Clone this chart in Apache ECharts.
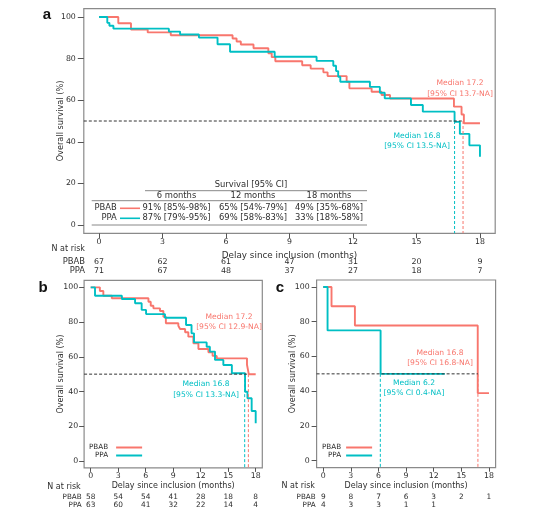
<!DOCTYPE html>
<html lang="en">
<head>
<meta charset="UTF-8">
<title>Overall survival</title>
<script src="https://cdn.jsdelivr.net/npm/echarts@6/dist/echarts.min.js"></script>
<style>
    html, body { margin: 0; padding: 0; background: #fff; }
    #main { width: 554px; height: 518px; }
</style>
</head>
<body>
<div id="main"></div>
<script type="text/javascript">
    // groups, ticks
    var groups = ['PBAB', 'PPA'];
    var riskTimes = [0, 3, 6, 9, 12, 15, 18];
    var yTicks = [0, 20, 40, 60, 80, 100];

    // panel a: everyone
    var aPbabT = [0, 0.91, 1.51, 2.3, 3.39, 6.31, 6.5, 6.7, 7.3, 8.0, 8.16, 8.33, 9.6, 10.0, 10.6, 10.8, 11.7, 11.83, 12.88, 13.35, 13.75, 16.77, 17.13, 17.24, 18.0];
    var aPbabS = [100, 97.0, 94.0, 92.6, 91.2, 89.7, 88.2, 86.8, 85.0, 82.6, 80.7, 78.7, 76.8, 75.2, 73.4, 71.6, 68.9, 65.7, 64.1, 62.5, 60.8, 56.9, 53.1, 48.9, 48.9];
    var aPpaT = [0, 0.39, 0.49, 0.68, 3.3, 3.83, 4.72, 5.6, 6.19, 8.3, 10.28, 11.07, 11.2, 11.3, 11.4, 12.8, 13.27, 13.5, 14.74, 15.3, 16.8, 17.05, 17.5, 18.0];
    var aPpaS = [100, 97.2, 95.8, 94.4, 93.0, 91.6, 90.1, 86.9, 83.3, 80.9, 78.9, 76.6, 74.0, 71.3, 68.9, 66.4, 63.6, 60.9, 57.7, 54.5, 49.6, 43.8, 38.3, 32.8];
    var aMedian = [17.2, 16.8];
    var aMedianCI = ['13.7-NA', '13.5-NA'];
    var aRiskPbab = [67, 62, 61, 47, 31, 20, 9];
    var aRiskPpa = [71, 67, 48, 37, 27, 18, 7];

    // survival table in panel a
    var tableMonths = [6, 12, 18];
    var survPbab = [91, 65, 49];
    var loPbab = [85, 54, 35];
    var hiPbab = [98, 79, 68];
    var survPpa = [87, 69, 33];
    var loPpa = [79, 58, 18];
    var hiPpa = [95, 83, 58];

    // panel b
    var bPbabT = [0, 1.0, 1.38, 2.3, 6.3, 6.55, 6.84, 7.56, 7.93, 8.2, 9.56, 9.75, 10.3, 10.65, 11.2, 11.75, 12.84, 13.3, 13.75, 17.05, 17.25, 18.0];
    var bPbabS = [100, 97.9, 95.2, 93.7, 91.7, 89.4, 87.9, 86.4, 83.1, 79.3, 77.9, 76.0, 74.1, 71.6, 67.8, 64.5, 62.6, 60.5, 59.1, 55.4, 49.9, 49.9];
    var bPpaT = [0, 0.47, 3.4, 4.84, 5.56, 6.04, 8.1, 10.4, 11.0, 11.27, 12.65, 13.0, 13.56, 14.47, 15.4, 16.84, 17.1, 17.56, 18.0];
    var bPpaS = [100, 95.2, 93.3, 90.8, 87.0, 84.6, 82.5, 78.3, 73.5, 68.3, 65.8, 63.0, 58.2, 55.3, 50.5, 39.9, 36.1, 28.8, 21.7];
    var bMedian = [17.2, 16.8];
    var bMedianCI = ['12.9-NA', '13.3-NA'];
    var bRiskPbab = [58, 54, 54, 41, 28, 18, 8];
    var bRiskPpa = [63, 60, 41, 32, 22, 14, 4];

    // panel c
    var cPbabT = [0, 0.9, 3.44, 16.78, 18.0];
    var cPbabS = [100, 88.9, 77.8, 38.9, 38.9];
    var cPpaT = [0, 0.47, 6.23, 13.2];
    var cPpaS = [100, 75, 50, 50];
    var cMedian = [16.8, 6.2];
    var cMedianCI = ['16.8-NA', '0.4-NA'];
    var cRiskPbab = [9, 8, 7, 6, 3, 2, 1];
    var cRiskPpa = [4, 3, 3, 1, 1, null, null];

    var C_PBAB = '#F8766D', C_PPA = '#00BFC4', INK = '#2e2e2e', FONT = 'DejaVu Sans';
    var XMIN = -0.72, XMAX = 18.72, YMIN = -4, YMAX = 104;

    function pts(t, s) {
        return t.map(function (x, i) { return [x, s[i]]; });
    }

    var panels = [
        {
            letter: 'a', letterPos: [47, 15],
            grid: {left: 83.8, top: 8.7, width: 411.4, height: 224.6},
            curves: [pts(aPbabT, aPbabS), pts(aPpaT, aPpaS)], median: aMedian, ci: aMedianCI,
            risk: [aRiskPbab, aRiskPpa], riskGap: [29, 37.7], labelMargin: 5, yLabelMargin: 8, tickLen: 5,
            nameGapX: 17.5, nameGapY: 18.5, atRisk: [85, 249.3], rowLabelX: 85,
            fs: {tick: 7.8, risk: 7.9, rowLabel: 8.4, titleX: 8.8, titleY: 8.2, med: 7.6, atRisk: 8},
            medText: [[460, 83.3, 94.3], [417, 135.7, 145.7]]
        },
        {
            letter: 'b', letterPos: [43, 288],
            grid: {left: 84.1, top: 280.4, width: 178.2, height: 187.5},
            curves: [pts(bPbabT, bPbabS), pts(bPpaT, bPpaS)], median: bMedian, ci: bMedianCI,
            risk: [bRiskPbab, bRiskPpa], riskGap: [29.4, 37.1], labelMargin: 4, yLabelMargin: 6, tickLen: 4,
            nameGapX: 14, nameGapY: 19, atRisk: [80.7, 487.3], rowLabelX: 81.7,
            fs: {tick: 7.8, risk: 7.4, rowLabel: 7.2, titleX: 8, titleY: 8, med: 7.6, atRisk: 8, legend: 7.2},
            medText: [[229, 316.7, 326.7], [206, 384.3, 395]],
            legend: {left: 89, top: 444, gap: 3}
        },
        {
            letter: 'c', letterPos: [280, 288],
            grid: {left: 316.6, top: 280, width: 179, height: 187.7},
            curves: [pts(cPbabT, cPbabS), pts(cPpaT, cPpaS)], median: cMedian, ci: cMedianCI,
            risk: [cRiskPbab, cRiskPpa], riskGap: [29.4, 37.1], labelMargin: 4, yLabelMargin: 7, tickLen: 4,
            nameGapX: 14, nameGapY: 20, atRisk: [315, 486], rowLabelX: 315.7,
            fs: {tick: 7.8, risk: 7.4, rowLabel: 7.2, titleX: 8, titleY: 8, med: 7.6, atRisk: 8, legend: 7.2},
            medText: [[440, 353.3, 362.7], [414, 383.3, 393.3]],
            legend: {left: 322, top: 444, gap: 0}
        }
    ];

    var colors = [C_PBAB, C_PPA];

    function ts(size) {
        return {color: INK, fontFamily: FONT, fontSize: size};
    }

    function text(x, y, s, align, color, size, extra) {
        return {
            type: 'text', x: x, y: y, silent: true,
            style: Object.assign({text: s, fill: color || INK, fontFamily: FONT, fontSize: size || 8, align: align || 'center', verticalAlign: 'middle'}, extra || {})
        };
    }

    function line(x1, y1, x2, y2, color, w) {
        return {type: 'line', silent: true, shape: {x1: x1, y1: y1, x2: x2, y2: y2}, style: {stroke: color || '#888', lineWidth: w || 1}};
    }

    var option = {animation: false, grid: [], xAxis: [], yAxis: [], series: [], legend: [], graphic: []};

    panels.forEach(function (p, k) {
        option.grid.push(Object.assign({show: true, borderColor: '#8a8a8a', borderWidth: 1.2, outerBoundsMode: 'none'}, p.grid));
        var xIdx = option.xAxis.length;
        var base = {
            gridIndex: k, type: 'value', position: 'bottom', min: XMIN, max: XMAX,
            splitLine: {show: false}, axisLine: {show: false, onZero: false}
        };
        option.xAxis.push(Object.assign({}, base, {
            name: 'Delay since inclusion (months)', nameLocation: 'middle', nameGap: p.nameGapX,
            nameMoveOverlap: false, nameTextStyle: ts(p.fs.titleX),
            axisTick: {show: true, length: p.tickLen, customValues: riskTimes, lineStyle: {color: '#555'}},
            axisLabel: Object.assign({customValues: riskTimes, margin: p.labelMargin}, ts(p.fs.tick))
        }));
        // N at risk rows as extra axes on the same scale
        p.risk.forEach(function (row, r) {
            option.xAxis.push(Object.assign({}, base, {
                axisTick: {show: false},
                axisLabel: Object.assign({
                    customValues: riskTimes, margin: p.riskGap[r], verticalAlign: 'middle',
                    formatter: function (v) {
                        var n = row[Math.round(v / 3)];
                        return n == null ? '' : String(n);
                    }
                }, ts(p.fs.risk))
            }));
        });
        option.yAxis.push({
            gridIndex: k, type: 'value', position: 'left', min: YMIN, max: YMAX,
            splitLine: {show: false}, axisLine: {show: false, onZero: false},
            name: 'Overall survival (%)', nameLocation: 'middle', nameGap: p.nameGapY,
            nameMoveOverlap: false, nameTextStyle: ts(p.fs.titleY),
            axisTick: {show: true, length: p.tickLen + 1, customValues: yTicks, lineStyle: {color: '#555'}},
            axisLabel: Object.assign({customValues: yTicks, margin: p.yLabelMargin}, ts(p.fs.tick))
        });

        p.curves.forEach(function (d, g) {
            option.series.push({
                name: groups[g], type: 'line', step: 'end', xAxisIndex: xIdx, yAxisIndex: k,
                data: d, symbol: 'none', color: colors[g], lineStyle: {width: 1.9, color: colors[g]}, z: 2
            });
        });
        // median guides
        var mMax = Math.max.apply(null, p.median);
        option.series.push({
            type: 'line', xAxisIndex: xIdx, yAxisIndex: k, data: [[XMIN, 50], [mMax, 50]], symbol: 'none',
            lineStyle: {width: 1, color: '#333', type: [3, 2]}, z: 4, silent: true
        });
        p.median.forEach(function (m, g) {
            option.series.push({
                type: 'line', xAxisIndex: xIdx, yAxisIndex: k, data: [[m, 50], [m, YMIN]], symbol: 'none',
                lineStyle: {width: 1, color: colors[g], type: [3, 2]}, z: 3, silent: true
            });
            var mt = p.medText[g];
            option.graphic.push(text(mt[0], mt[1], 'Median ' + m.toFixed(1), 'center', colors[g], p.fs.med));
            option.graphic.push(text(mt[0], mt[2], '[95% CI ' + p.ci[g] + ']', 'center', colors[g], p.fs.med));
        });

        // panel letter and risk table labels
        option.graphic.push(text(p.letterPos[0], p.letterPos[1], p.letter, 'center', '#111', 15,
            {fontFamily: 'Liberation Sans', fontWeight: 'bold'}));
        var yb = p.grid.top + p.grid.height;
        option.graphic.push(text(p.atRisk[0], p.atRisk[1], 'N at risk', 'right', INK, p.fs.atRisk));
        groups.forEach(function (name, g) {
            option.graphic.push(text(p.rowLabelX, yb + p.riskGap[g], name, 'right', INK, p.fs.rowLabel));
        });

        if (p.legend) {
            option.legend.push({
                data: groups, orient: 'vertical', align: 'right', left: p.legend.left, top: p.legend.top,
                icon: 'rect', itemWidth: 26, itemHeight: 2, itemGap: 1, padding: 0, selectedMode: false,
                textStyle: Object.assign({padding: [0, p.legend.gap, 0, 0]}, ts(p.fs.legend))
            });
        }
    });

    // survival table inside panel a
    var colX = [176.5, 253, 329];
    option.graphic.push(text(251, 185, 'Survival [95% CI]', 'center', INK, 8.4));
    option.graphic.push(line(145, 190.7, 367, 190.7));
    option.graphic.push(line(91.7, 200.7, 367, 200.7));
    option.graphic.push(line(91.7, 225, 367, 225));
    tableMonths.forEach(function (m, i) {
        option.graphic.push(text(colX[i], 195.5, m + ' months', 'center', INK, 8.4));
    });
    [[survPbab, loPbab, hiPbab], [survPpa, loPpa, hiPpa]].forEach(function (rows, g) {
        var y = g === 0 ? 208.3 : 218.3;
        option.graphic.push(text(116.7, y, groups[g], 'right', INK, 8.4));
        option.graphic.push(line(120, y, 140, y, colors[g], 1.6));
        tableMonths.forEach(function (m, i) {
            option.graphic.push(text(colX[i], y, rows[0][i] + '% [' + rows[1][i] + '%-' + rows[2][i] + '%]', 'center', INK, 8.4));
        });
    });

    var myChart = echarts.init(document.getElementById('main'));
    myChart.setOption(option);
</script>
</body>
</html>
